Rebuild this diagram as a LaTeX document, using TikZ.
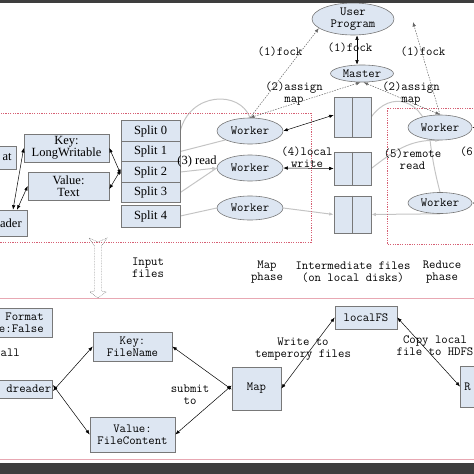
\documentclass[tikz,border=0pt]{standalone}
\usepackage{fontspec}
\setmainfont{Liberation Serif}
\usetikzlibrary{arrows.meta,shapes.geometric,backgrounds}

\definecolor{boxfill}{RGB}{221,230,242}
\definecolor{boxline}{RGB}{120,120,120}
\definecolor{frameline}{RGB}{214,96,116}
\definecolor{bandcol}{RGB}{62,62,62}
\definecolor{tracecol}{RGB}{196,196,196}

\begin{document}
\begin{tikzpicture}[x=1pt,y=1pt,yscale=-1,
    box/.style={draw=boxline,fill=boxfill,line width=0.6pt,inner sep=2pt,align=center},
    rmfont/.style={font=\fontsize{12.5}{12}\selectfont},
    ttfont/.style={font=\ttfamily\fontsize{12.4}{12}\selectfont},
    worker/.style={ellipse,draw=boxline,fill=boxfill,line width=0.6pt,inner sep=0pt,align=center,ttfont},
    lbl/.style={ttfont,align=center,inner sep=0pt},
    tipa/.style={-{Latex[length=4.5pt,width=3.5pt]},line width=0.5pt},
    dbl/.style={{Latex[length=4.5pt,width=3.5pt]}-{Latex[length=4.5pt,width=3.5pt]},line width=0.5pt},
    dsh/.style={draw=black!60,dash pattern=on 1.5pt off 1.2pt},
    trace/.style={draw=tracecol,line width=1pt},
    gtip/.style={-{Latex[length=4.5pt,width=3.5pt]}},
    frm/.style={draw=frameline,line width=0.6pt,dash pattern=on 1.2pt off 1.2pt}]
\useasboundingbox (0,0) rectangle (474,474);
\clip (0,0) rectangle (474,474);

%Frames
\draw[frm] (-5,113) rectangle (311,242);
\draw[frm] (387,108) rectangle (480,244);
\draw[draw=frameline!55,line width=0.7pt] (-5,298) rectangle (480,459);

%Shape: dotted hollow arrow
\draw[black!55,dash pattern=on 0.8pt off 0.8pt] (89,238) -- (98,242) -- (107,238) -- (101.5,246) -- (101.5,291) -- (106,292) -- (98,298) -- (90,292) -- (94.5,291) -- (94.5,246) -- cycle;

%Nodes: top
\node[worker,minimum width=82pt,minimum height=32pt] (up) at (353,19) {User\\Program};
\node[worker,minimum width=63pt,minimum height=17pt] (master) at (362,73.5) {Master};

%Nodes: input side
\node[box,rmfont,anchor=east,text width=40pt,align=right,inner xsep=5pt,minimum height=23pt] (infmt) at (17,157.5) {at};
\node[box,rmfont,anchor=east,text width=40pt,align=right,inner xsep=6pt,minimum height=26pt] (rdr) at (28,223) {ader};
\node[box,rmfont,minimum width=85pt,minimum height=28pt] (key1) at (66.5,148) {Key:\\LongWritable};
\node[box,rmfont,minimum width=81pt,minimum height=28pt] (val1) at (68.5,186) {Value:\\Text};

%Nodes: splits
\node[box,rmfont,minimum width=59pt,minimum height=20.5pt] (split0) at (150.5,131) {Split 0};
\node[box,rmfont,minimum width=59pt,minimum height=20.5pt] (split1) at (150.5,151.5) {Split 1};
\node[box,rmfont,minimum width=59pt,minimum height=20.5pt] (split2) at (150.5,172) {Split 2};
\node[box,rmfont,minimum width=59pt,minimum height=20.5pt] (split3) at (150.5,192.5) {Split 3};
\node[box,rmfont,minimum width=59pt,minimum height=22pt] (split4) at (150.5,216) {Split 4};

%Nodes: map workers
\node[worker,minimum width=66pt,minimum height=26pt] (w1) at (250,131) {Worker};
\node[worker,minimum width=66pt,minimum height=26pt] (w2) at (250,168) {Worker};
\node[worker,minimum width=66pt,minimum height=24pt] (w3) at (250,208) {Worker};

%Nodes: intermediate files
\node[box,minimum width=37pt,minimum height=40pt] (ib1) at (352.5,117) {};
\node[box,minimum width=37pt,minimum height=33pt] (ib2) at (352.5,168.5) {};
\node[box,minimum width=37pt,minimum height=37pt] (ib3) at (352.5,214.5) {};
\draw[boxline,line width=0.6pt] (ib1.north) -- (ib1.south);
\draw[boxline,line width=0.6pt] (ib2.north) -- (ib2.south);
\draw[boxline,line width=0.6pt] (ib3.north) -- (ib3.south);

%Nodes: reduce workers
\node[worker,minimum width=64pt,minimum height=25pt] (rw1) at (440,127.5) {Worker};
\node[worker,minimum width=64pt,minimum height=21pt] (rw2) at (440,203) {Worker};
\coordinate (out1) at (492,127.5);
\coordinate (out2) at (492,203);
\coordinate (fockR) at (413,22);

%Nodes: bottom
\node[box,ttfont,anchor=east,text width=60pt,align=right,inner xsep=9pt,minimum height=29pt] (fmt) at (53,322.5) {Format\\e:False};
\node[lbl,anchor=east] (callt) at (20,353) {all};
\node[box,ttfont,anchor=east,text width=60pt,align=right,inner xsep=1.5pt,minimum height=18pt] (drd) at (53,389) {dreader};
\node[box,ttfont,minimum width=79pt,minimum height=29pt] (key2) at (132.5,346.5) {Key:\\FileName};
\node[box,ttfont,minimum width=85pt,minimum height=35pt] (val2) at (132.5,434.5) {Value:\\FileContent};
\node[box,ttfont,minimum width=49pt,minimum height=43pt] (map) at (256.5,388.5) {Map};
\node[box,ttfont,minimum width=62pt,minimum height=23pt] (lfs) at (366,317.5) {localFS};
\node[box,ttfont,anchor=west,text width=30pt,align=left,inner xsep=4pt,minimum height=41pt] (hdfs) at (460,386.5) {R};

% Text Node
\node[lbl] (fock1) at (280,52) {(1)fock};
\node[lbl] (fock2) at (350,48) {(1)fock};
\node[lbl] (fock3) at (423,52) {(1)fock};
\node[lbl] (asg1) at (294,93.5) {(2)assign\\map};
\node[lbl] (asg2) at (411,93.5) {(2)assign\\map};
\node[rmfont,inner sep=0pt] (readt) at (197,161) {(3) read};
\node[lbl] (lwrite) at (307,157.5) {(4)local\\write};
\node[lbl] (rread) at (412.5,159) {(5)remote\\read};
\node[lbl,anchor=east] (six) at (473,152) {(6};
\node[lbl] (inph) at (148,268) {Input\\files};
\node[lbl] (mapph) at (267,272) {Map\\phase};
\node[lbl] (midph) at (353,272) {Intermediate files\\(on local disks)};
\node[lbl] (redph) at (442,272) {Reduce\\phase};
\node[lbl] (subt) at (190,395) {submit\\to};
\node[lbl] (wrt) at (303,349) {Write to\\temperory files};
\node[lbl] (cpy) at (435,346) {Copy local\\file to HDFS};

%Gray traces
\begin{pgfonlayer}{background}
\draw[trace] (split0.east) .. controls (190,92) and (240,90) .. (w1.north);
\draw[trace] (split1.east) -- (w1.200);
\draw[trace,gtip] (split2.east) -- (w2.west);
\draw[trace] (split3.east) -- (w2.west);
\draw[trace] (split4.east) -- (w3.west);
\draw[trace,gtip] (w3.east) -- (ib3.west);
\draw[trace] (ib1.east) .. controls (390,90) and (425,98) .. (430,140) .. controls (433,165) and (437,180) .. (rw2.north);
\draw[trace,gtip] (ib2.east) .. controls (395,150) and (410,140) .. (rw1.south);
\draw[trace,gtip] (rw2.south) -- (ib3.east);
\end{pgfonlayer}

%Dashed control lines
\draw[dsh,tipa] (w1.north) -- (up.195);
\draw[dsh,tipa] (rw1.north) -- (fockR);
\draw[dsh,dbl] (master.260) -- (w1.north);
\draw[dsh,dbl] (master.280) -- (rw1.north);
\draw[dbl] ([xshift=4pt]up.south) -- ([xshift=-5pt]master.north);

%Connectors
\draw[dbl] ([xshift=-15pt]rdr.north east) -- (key1.west);
\draw[dbl] ([xshift=-11pt]rdr.north east) -- (val1.west);
\draw[dbl] (key1.east) -- ([yshift=2pt]split2.west);
\draw[dbl] ([yshift=3pt]val1.east) -- ([yshift=-2pt]split2.west);
\draw[dbl] (w1.east) -- ([yshift=-2pt]ib1.west);
\draw[dbl] (w2.east) -- (ib2.west);
\draw[dbl] (rw1.east) -- (out1);
\draw[dbl] (rw2.east) -- (out2);
\draw[dbl] ([yshift=2pt]drd.east) -- (key2.west);
\draw[dbl] ([yshift=-4pt]drd.east) -- (val2.west);
\draw[dbl] (key2.east) -- ([yshift=1pt]map.west);
\draw[dbl] (val2.east) -- ([yshift=-3pt]map.west);
\draw[dbl] (map.east) -- (lfs.west);
\draw[dbl] (lfs.east) -- (hdfs.west);

%Bands
\fill[bandcol] (0,0) rectangle (474,2.5);
\fill[bandcol] (0,463) rectangle (474,474);
\end{tikzpicture}
\end{document}
